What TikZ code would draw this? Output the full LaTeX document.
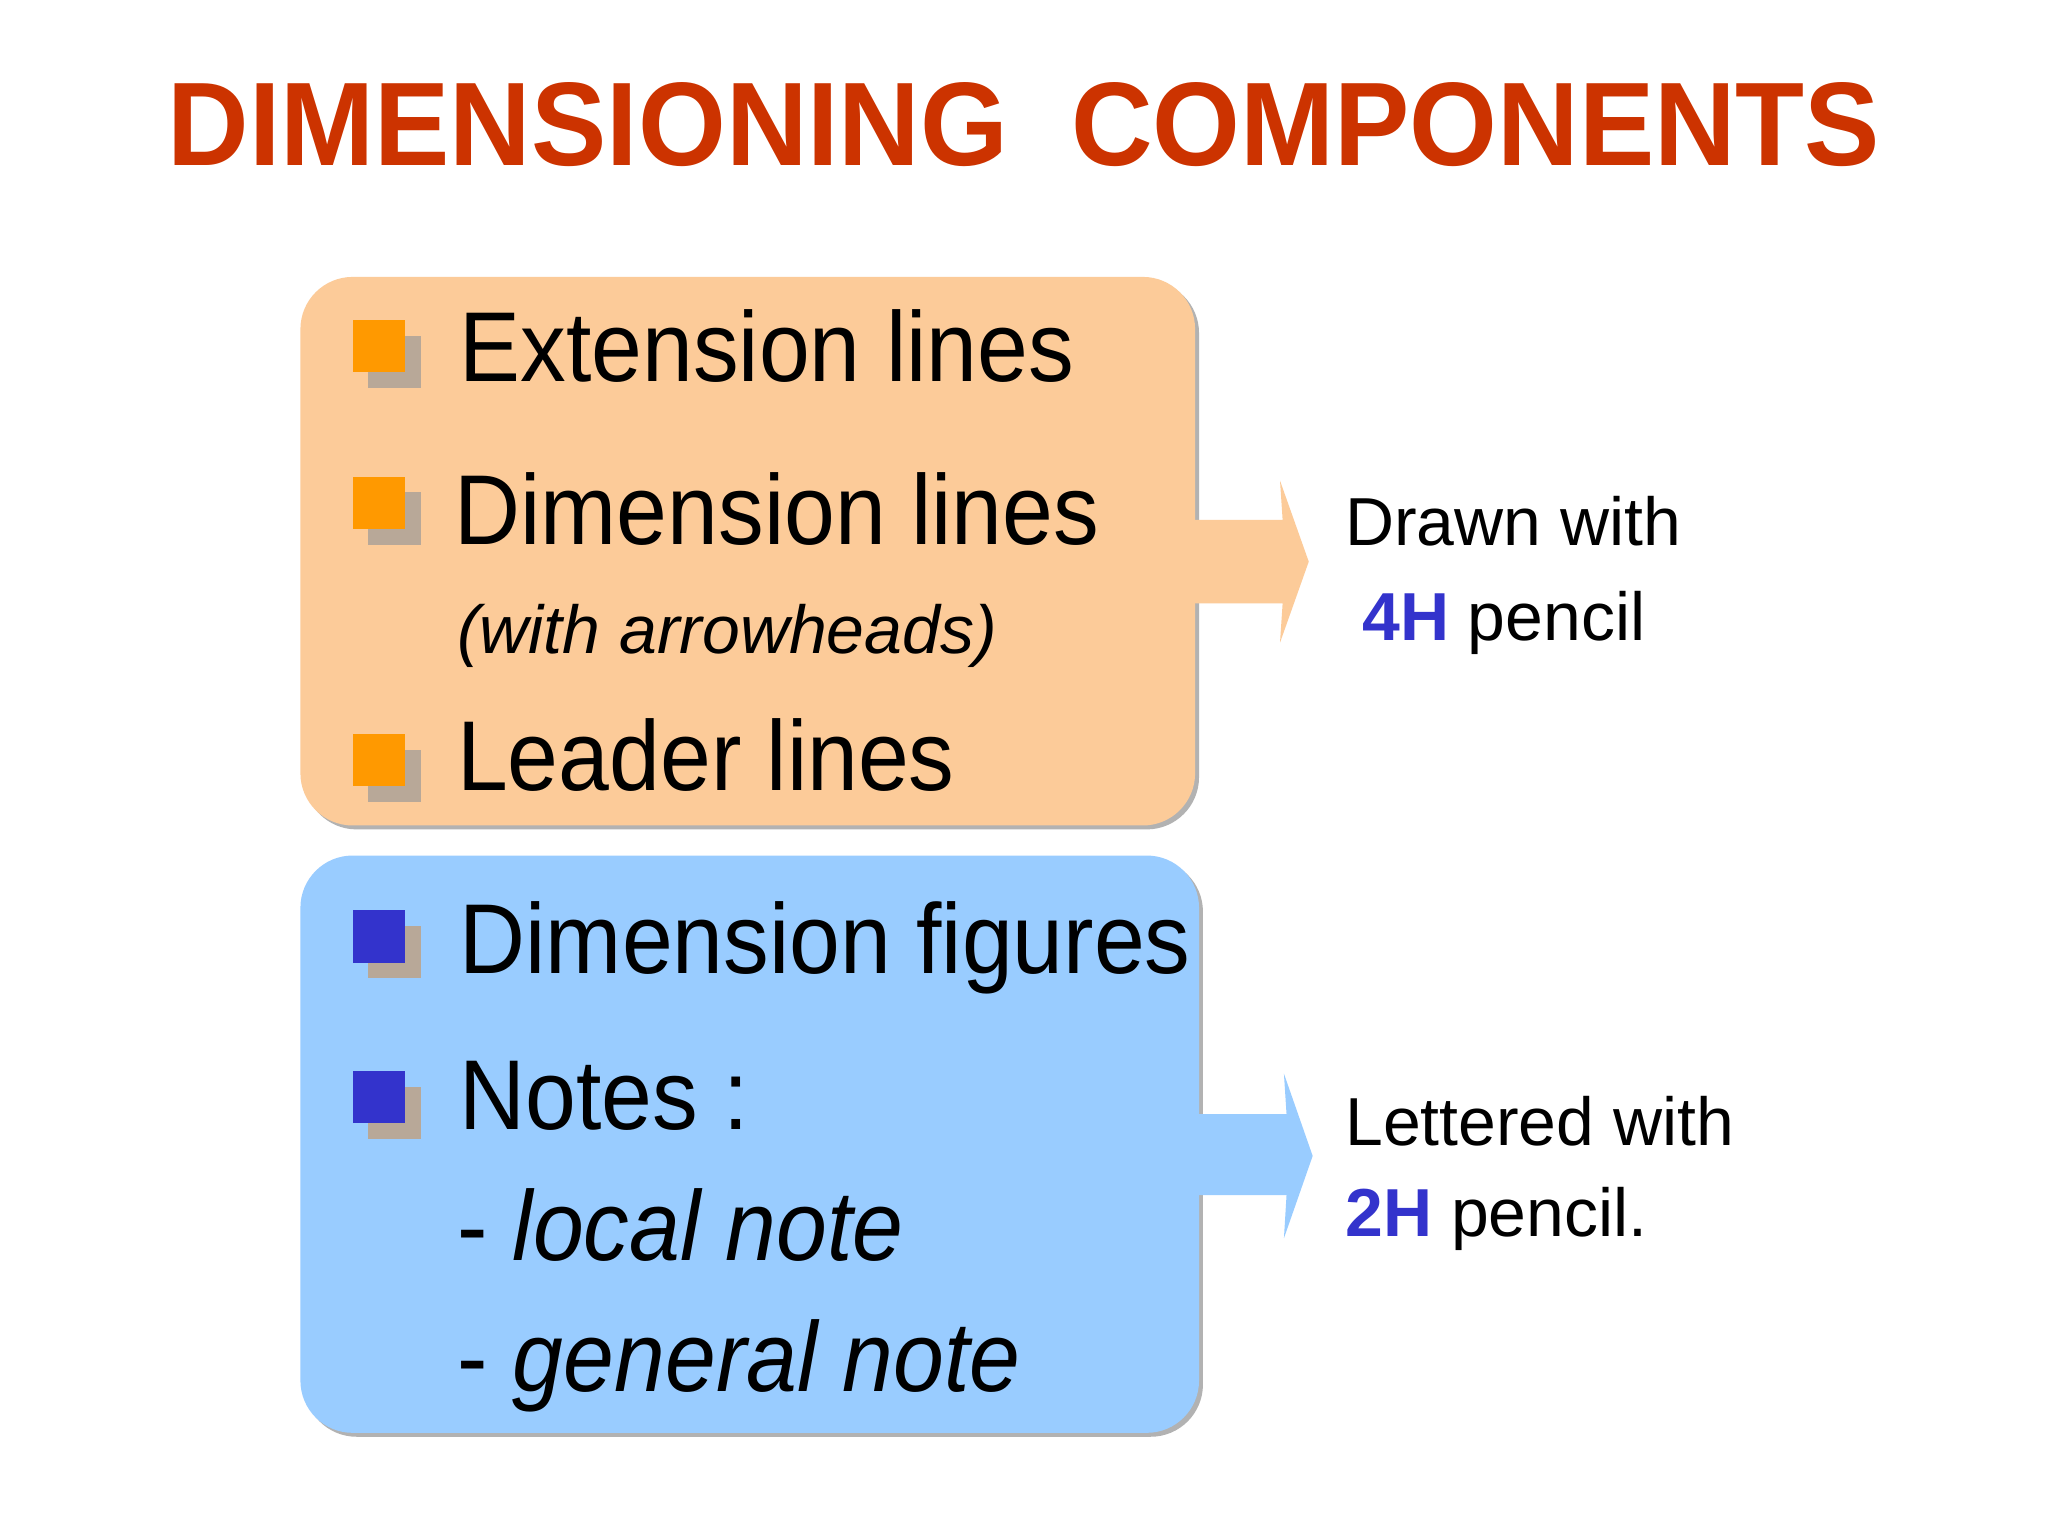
\documentclass[tikz,border=0pt]{standalone}
\usepackage{fontspec}
\setmainfont{Liberation Sans}
\begin{document}
\begin{tikzpicture}[x=1pt,y=-1pt,
  every node/.style={inner sep=0pt,outer sep=0pt},
  item/.style={anchor=base west,font=\fontsize{76}{80}\selectfont,transform shape,xscale=0.92},
  sub/.style={anchor=base west,font=\fontsize{52}{56}\selectfont\itshape},
  side/.style={anchor=base west,font=\fontsize{52}{56}\selectfont}]
\definecolor{titlec}{HTML}{CC3300}
\definecolor{orfill}{HTML}{FCCB99}
\definecolor{blfill}{HTML}{99CCFF}
\definecolor{orb}{HTML}{FF9900}
\definecolor{blb}{HTML}{3333CC}
\definecolor{shad}{HTML}{B8A898}
\useasboundingbox (0,0) rectangle (1568,1176);
\fill[white] (0,0) rectangle (1568,1176);
\node[transform shape,xscale=0.95] (title) at (784,95) {\fontsize{91}{95}\selectfont\bfseries\color{titlec}DIMENSIONING\ \ COMPONENTS};
% boxes
\fill[gray!60,rounded corners=40] (233,215) rectangle (918,635);
\fill[orfill,rounded corners=40] (230,212) rectangle (915,632);
\fill[gray!60,rounded corners=40] (233,658) rectangle (921,1100);
\fill[blfill,rounded corners=40] (230,655) rectangle (918,1097);
% arrows
\fill[orfill] (915,398) -- (982,398) -- (980,368) -- (1002,430) -- (980,492) -- (982,462) -- (915,462) -- cycle;
\fill[blfill] (918,853) -- (985,853) -- (983,822) -- (1005,885) -- (983,948) -- (985,915) -- (918,915) -- cycle;
% bullets
\foreach \y/\c in {245/orb,365/orb,562/orb,697/blb,820/blb}{
  \fill[shad] (282,\y+12) rectangle (322,\y+52);
  \fill[\c] (270,\y) rectangle (310,\y+40);
}
\node[item] (t1) at (352,292) {Extension lines};
\node[item] (t2) at (348,417) {Dimension lines};
\node[sub] (t3) at (350,500) {(with arrowheads)};
\node[item] (t4) at (350,605) {Leader lines};
\node[item] (t5) at (352,745) {Dimension figures};
\node[item] (t6) at (352,865) {Notes :};
\node[item] (t7) at (350,965) {- \textit{local note}};
\node[item] (t8) at (350,1065) {- \textit{general note}};
\node[side] (r1) at (1030,418) {Drawn with};
\node[side] (r2) at (1043,490) {\textbf{\color{blb}4H} pencil};
\node[side] (r3) at (1030,877) {Lettered with};
\node[side] (r4) at (1030,947) {\textbf{\color{blb}2H} pencil.};
\end{tikzpicture}
\end{document}
